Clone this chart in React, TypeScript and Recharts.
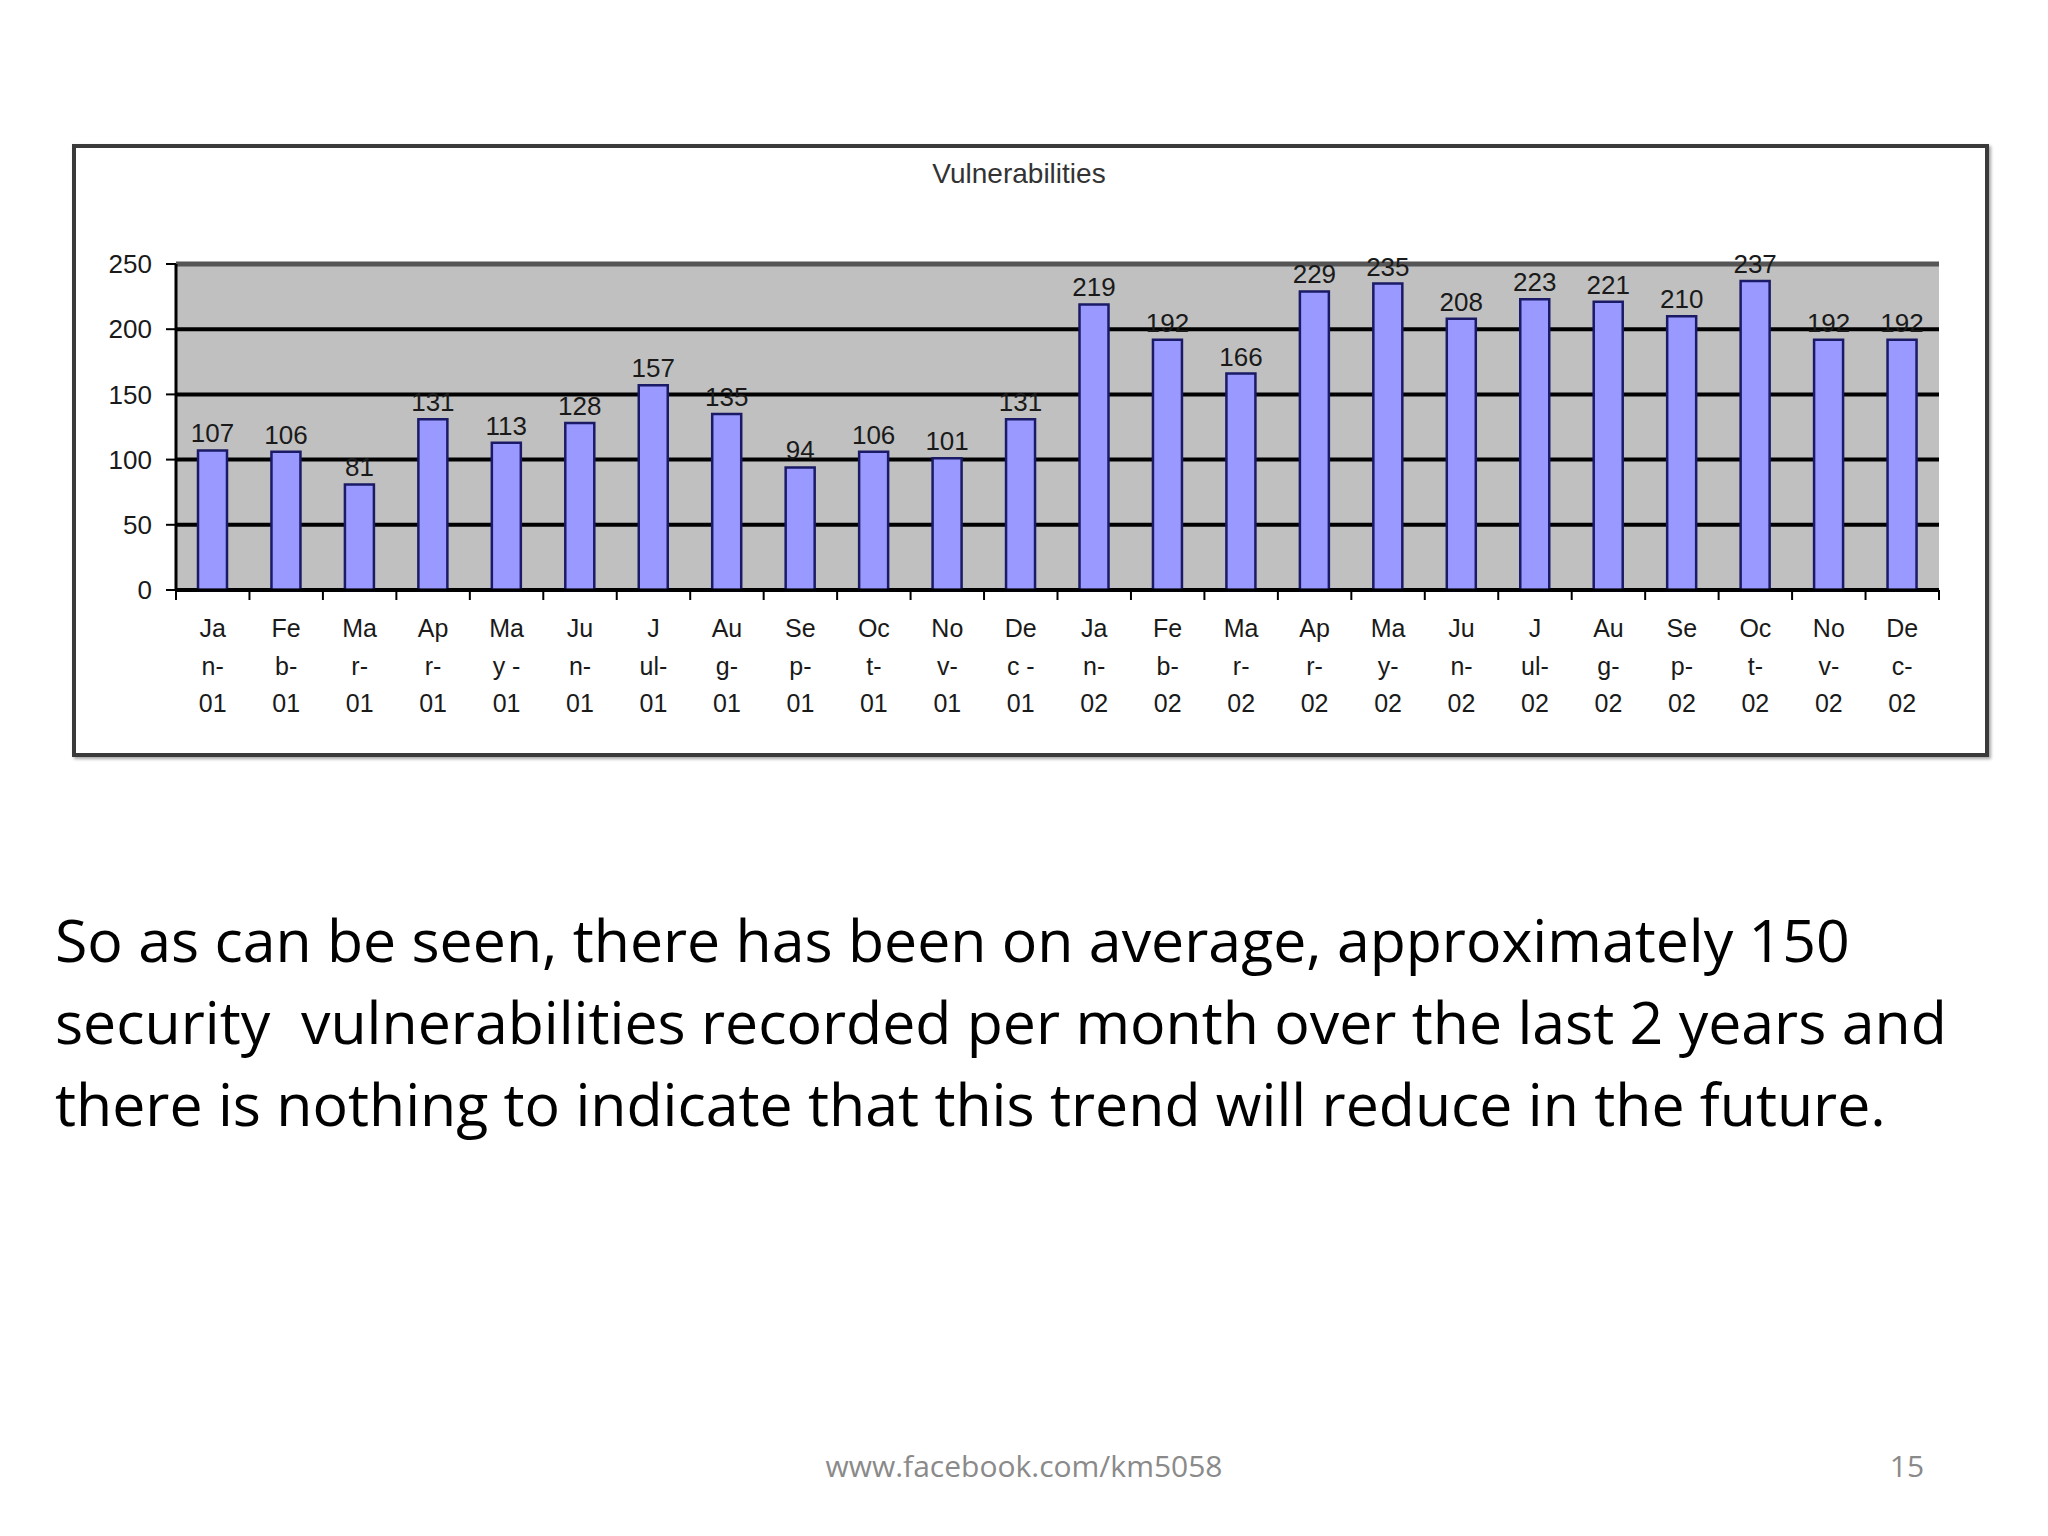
import React from "react";
import {
  BarChart,
  Bar,
  XAxis,
  YAxis,
  CartesianGrid,
  ReferenceLine,
  LabelList,
} from "recharts";

const months = [
  "Jan-01", "Feb-01", "Mar-01", "Apr-01", "May-01", "Jun-01",
  "Jul-01", "Aug-01", "Sep-01", "Oct-01", "Nov-01", "Dec-01",
  "Jan-02", "Feb-02", "Mar-02", "Apr-02", "May-02", "Jun-02",
  "Jul-02", "Aug-02", "Sep-02", "Oct-02", "Nov-02", "Dec-02",
];

const vulnerabilities = [
  107, 106, 81, 131, 113, 128, 157, 135, 94, 106, 101, 131,
  219, 192, 166, 229, 235, 208, 223, 221, 210, 237, 192, 192,
];

// month labels wrap onto three lines in the original
const tickLines = [
  ["Ja", "n-", "01"], ["Fe", "b-", "01"], ["Ma", "r-", "01"], ["Ap", "r-", "01"],
  ["Ma", "y -", "01"], ["Ju", "n-", "01"], ["J", "ul-", "01"], ["Au", "g-", "01"],
  ["Se", "p-", "01"], ["Oc", "t-", "01"], ["No", "v-", "01"], ["De", "c -", "01"],
  ["Ja", "n-", "02"], ["Fe", "b-", "02"], ["Ma", "r-", "02"], ["Ap", "r-", "02"],
  ["Ma", "y-", "02"], ["Ju", "n-", "02"], ["J", "ul-", "02"], ["Au", "g-", "02"],
  ["Se", "p-", "02"], ["Oc", "t-", "02"], ["No", "v-", "02"], ["De", "c-", "02"],
];

const yTicks = [0, 50, 100, 150, 200, 250];

const bodyLines = [
  "So as can be seen, there has been on average, approximately 150",
  "security  vulnerabilities recorded per month over the last 2 years and",
  "there is nothing to indicate that this trend will reduce in the future.",
];

const chartData = months.map((m, i) => ({ month: m, value: vulnerabilities[i] }));

const CHART_W = 1909;
const CHART_H = 605;
const PLOT_LEFT = 100;
const PLOT_RIGHT_MARGIN = 46;
const BAND = (CHART_W - PLOT_LEFT - PLOT_RIGHT_MARGIN) / months.length;

const axisFont = "'Liberation Sans', Arial, sans-serif";

function MonthTick(props: any) {
  const { x, y, index } = props;
  const lines = tickLines[index] || [];
  const last = index === months.length - 1;
  return (
    <g>
      <line x1={x - BAND / 2} y1={y} x2={x - BAND / 2} y2={y + 10} stroke="#000" strokeWidth={2} />
      {last && (
        <line x1={x + BAND / 2} y1={y} x2={x + BAND / 2} y2={y + 10} stroke="#000" strokeWidth={2} />
      )}
      {lines.map((t: string, k: number) => (
        <text
          key={k}
          x={x}
          y={y + 47 + k * 37.5}
          textAnchor="middle"
          fontSize={25}
          fontFamily={axisFont}
          fill="#1a1a1a"
        >
          {t}
        </text>
      ))}
    </g>
  );
}

export default function App() {
  return (
    <div
      style={{
        position: "absolute",
        left: 0,
        top: 0,
        width: 2048,
        height: 1536,
        background: "#ffffff",
        overflow: "hidden",
      }}
    >
      <div
        style={{
          position: "absolute",
          left: 72,
          top: 144,
          width: 1917,
          height: 613,
          border: "4px solid #3a3a3a",
          boxSizing: "border-box",
          background: "#fff",
          boxShadow: "2px 2px 3px rgba(0,0,0,0.35)",
        }}
      >
        <div
          style={{
            position: "absolute",
            left: 943,
            top: 10,
            transform: "translateX(-50%)",
            fontFamily: axisFont,
            fontSize: 28,
            color: "#333",
            whiteSpace: "nowrap",
          }}
        >
          Vulnerabilities
        </div>
        <BarChart
          width={CHART_W}
          height={CHART_H}
          data={chartData}
          margin={{ top: 116, right: PLOT_RIGHT_MARGIN, bottom: 0, left: 0 }}
          barCategoryGap="30%"
        >
          <CartesianGrid
            vertical={false}
            fill="#c0c0c0"
            fillOpacity={1}
            stroke="#000"
            strokeWidth={4}
          />
          <ReferenceLine y={250} stroke="#555" strokeWidth={5} />
          <XAxis
            dataKey="month"
            height={163}
            interval={0}
            tickLine={false}
            tickSize={0}
            tickMargin={0}
            axisLine={{ stroke: "#000", strokeWidth: 3 }}
            tick={<MonthTick />}
          />
          <YAxis
            width={PLOT_LEFT}
            domain={[0, 250]}
            ticks={yTicks}
            interval={0}
            tickSize={10}
            tickMargin={14}
            tickLine={{ stroke: "#000", strokeWidth: 2 }}
            axisLine={{ stroke: "#000", strokeWidth: 3 }}
            tick={{ fontSize: 26, fontFamily: axisFont, fill: "#1a1a1a" }}
          />
          <Bar
            dataKey="value"
            barSize={29}
            fill="#9999ff"
            stroke="#1a1a66"
            strokeWidth={2.5}
            isAnimationActive={false}
          >
            <LabelList
              dataKey="value"
              position="top"
              offset={8}
              fontSize={26}
              fontFamily={axisFont}
              fill="#1a1a1a"
            />
          </Bar>
        </BarChart>
      </div>

      <div
        style={{
          position: "absolute",
          left: 55,
          top: 898,
          fontFamily: "'Open Sans', sans-serif",
          fontSize: 59,
          lineHeight: "82px",
          color: "#000",
          whiteSpace: "pre",
        }}
      >
        {bodyLines.map((l, i) => (
          <div key={i}>{l}</div>
        ))}
      </div>

      <div
        style={{
          position: "absolute",
          left: 1024,
          top: 1445,
          transform: "translateX(-50%)",
          fontFamily: "'Open Sans', sans-serif",
          fontSize: 30,
          color: "#8a8a8a",
          whiteSpace: "nowrap",
        }}
      >
        www.facebook.com/km5058
      </div>
      <div
        style={{
          position: "absolute",
          left: 1907,
          top: 1445,
          transform: "translateX(-50%)",
          fontFamily: "'Open Sans', sans-serif",
          fontSize: 30,
          color: "#8a8a8a",
        }}
      >
        15
      </div>
    </div>
  );
}
